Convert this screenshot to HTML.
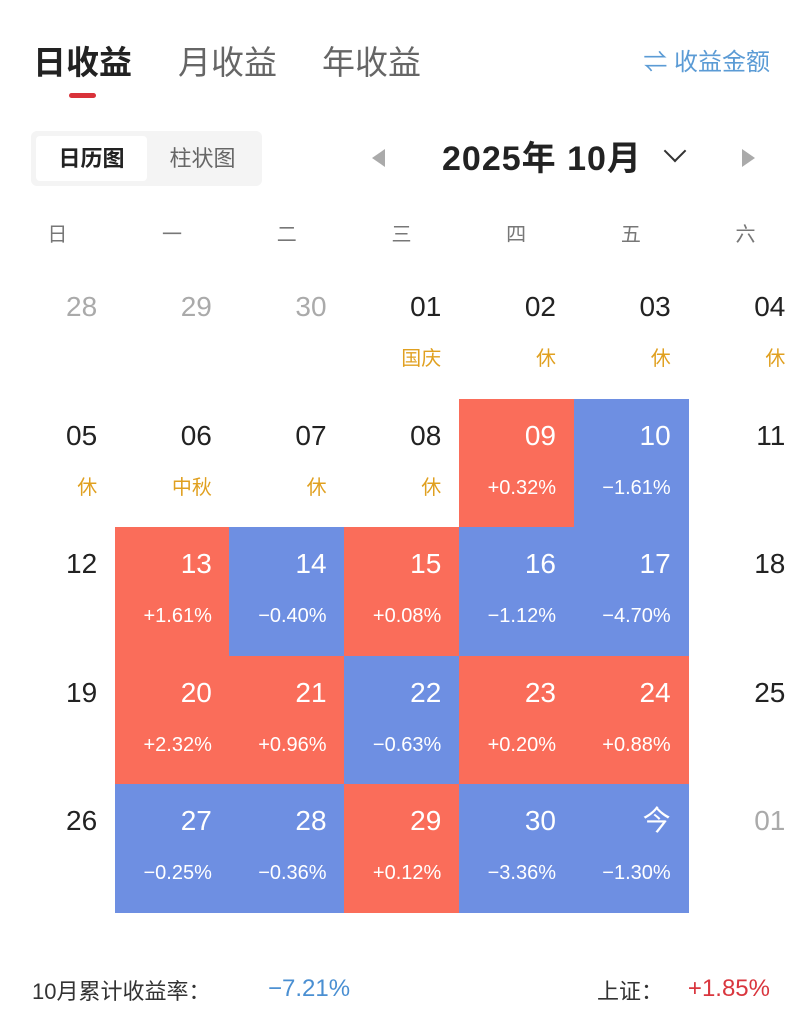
<!DOCTYPE html>
<html><head><meta charset="utf-8">
<style>
body{margin:0;width:803px;height:1024px;background:#fff;position:relative;overflow:hidden;font-family:"Liberation Sans","Noto Sans CJK SC",sans-serif;}
.a{position:absolute;white-space:nowrap;}
.cell{position:absolute;}
.num{position:absolute;right:18px;top:20px;font-size:28px;line-height:34px;}
.sub{position:absolute;right:18px;top:77px;font-size:20px;line-height:24px;}
</style></head><body>
<div class="a" style="left:33px;top:36px;font-size:33px;font-weight:bold;color:#222;">日收益</div>
<div class="a" style="left:69px;top:93px;width:27px;height:5px;border-radius:3px;background:#d9323a;"></div>
<div class="a" style="left:178px;top:36px;font-size:33px;color:#666;">月收益</div>
<div class="a" style="left:322px;top:36px;font-size:33px;color:#666;">年收益</div>
<div class="a" style="right:33px;top:42px;font-size:24px;color:#5b9bd5;">⇌ 收益金额</div>
<div class="a" style="left:31px;top:131px;width:231px;height:55px;background:#f4f4f4;border-radius:6px;"></div>
<div class="a" style="left:36px;top:136px;width:111px;height:45px;background:#fff;border-radius:4px;font-size:22px;font-weight:bold;color:#222;text-align:center;line-height:45px;">日历图</div>
<div class="a" style="left:147px;top:136px;width:111px;height:45px;font-size:22px;color:#666;text-align:center;line-height:45px;">柱状图</div>
<div class="a" style="left:372px;top:149px;width:0;height:0;border-top:9px solid transparent;border-bottom:9px solid transparent;border-right:13px solid #aaa;"></div>
<div class="a" style="left:442px;top:131px;font-size:34px;font-weight:bold;color:#222;letter-spacing:1px;">2025年 10月</div>
<div class="a" style="left:667px;top:143px;width:14px;height:14px;border-right:2.5px solid #333;border-bottom:2.5px solid #333;transform:rotate(45deg);"></div>
<div class="a" style="left:742px;top:149px;width:0;height:0;border-top:9px solid transparent;border-bottom:9px solid transparent;border-left:13px solid #aaa;"></div>
<div id="grid"></div>
<div class="a" style="left:32px;top:974px;font-size:22px;color:#333;">10月累计收益率：</div>
<div class="a" style="left:268px;top:975px;font-size:24px;color:#4a8fd2;">−7.21%</div>
<div class="a" style="left:597px;top:974px;font-size:22px;color:#333;">上证：</div>
<div class="a" style="right:33px;top:975px;font-size:24px;color:#d9363e;">+1.85%</div>
<script>
const weekdays=["日","一","二","三","四","五","六"];
const days=["28","29","30","01","02","03","04","05","06","07","08","09","10","11","12","13","14","15","16","17","18","19","20","21","22","23","24","25","26","27","28","29","30","今","01"];
const labels=["","","","国庆","休","休","休","休","中秋","休","休","+0.32%","−1.61%","","","+1.61%","−0.40%","+0.08%","−1.12%","−4.70%","","","+2.32%","+0.96%","−0.63%","+0.20%","+0.88%","","","−0.25%","−0.36%","+0.12%","−3.36%","−1.30%",""];
const returns=[null,null,null,null,null,null,null,null,null,null,null,0.32,-1.61,null,null,1.61,-0.40,0.08,-1.12,-4.70,null,null,2.32,0.96,-0.63,0.20,0.88,null,null,-0.25,-0.36,0.12,-3.36,-1.30,null];
const outside=[true,true,true,false,false,false,false,false,false,false,false,false,false,false,false,false,false,false,false,false,false,false,false,false,false,false,false,false,false,false,false,false,false,false,true];
const g=document.getElementById('grid');
const CW=114.7,RH=128.5,TOP=270;
weekdays.forEach((w,i)=>{const d=document.createElement('div');


d.className='a';d.style.cssText=`left:${i*CW}px;width:${CW}px;text-align:center;top:218px;font-size:20px;color:#777;`;d.textContent=w;g.appendChild(d);});
days.forEach((t,i)=>{const c=i%7,r=Math.floor(i/7);const v=returns[i];
const d=document.createElement('div');


d.className='cell';
d.style.left=(c*CW)+'px';d.style.top=(TOP+r*RH)+'px';d.style.width=(CW+0.5)+'px';d.style.height=(RH+0.5)+'px';
let col=outside[i]?'#aaa':'#222',sc='#e0a020';
if(v!==null){d.style.background=v>=0?'#fa6d5a':'#6e8fe2';col='#fff';sc='#fff';}
const n=document.createElement('div');


n.className='num';n.style.color=col;n.textContent=t;d.appendChild(n);
if(labels[i]){const s=document.createElement('div');


s.className='sub';s.style.color=sc;s.textContent=labels[i];d.appendChild(s);}
g.appendChild(d);});
</script>
</body></html>
